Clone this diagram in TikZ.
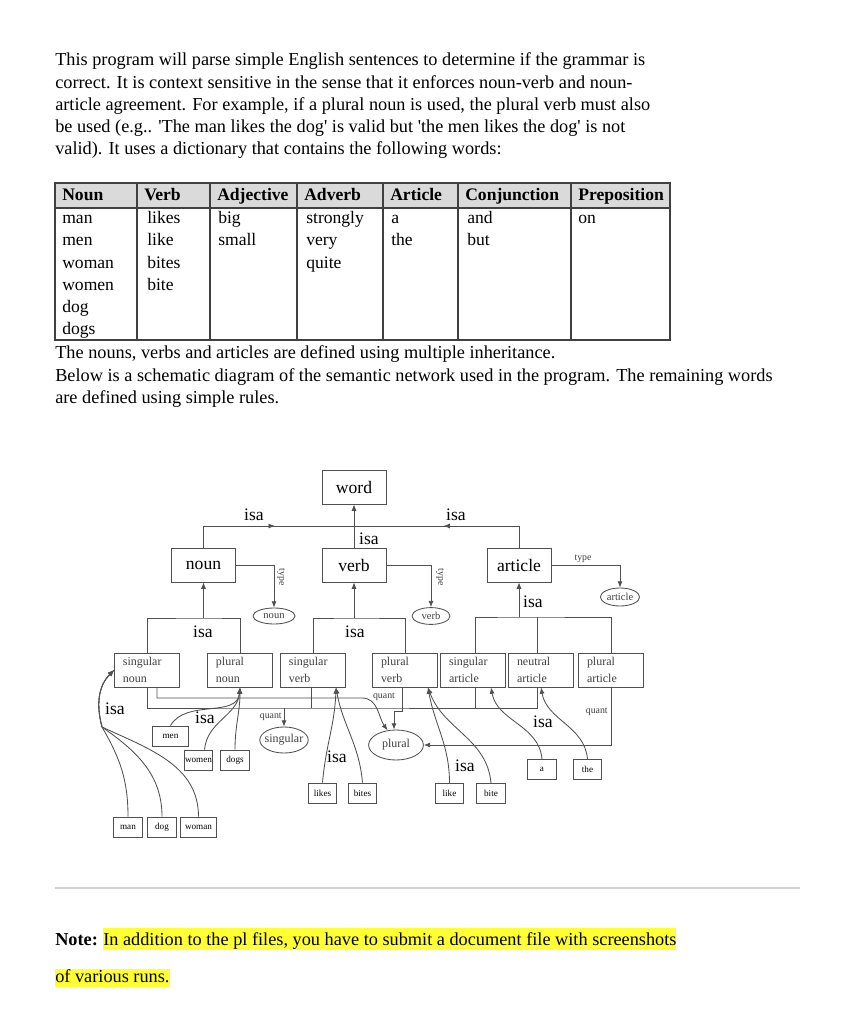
\documentclass[tikz,border=0pt]{standalone}
\usepackage{fontspec}
\setmainfont{Liberation Serif}
\usepackage{xcolor}
\usetikzlibrary{arrows.meta}
\usetikzlibrary{shapes.geometric}
\usetikzlibrary{decorations.markings}

\definecolor{lineg}{HTML}{505050}
\definecolor{hdrgray}{HTML}{DADADA}
\definecolor{rulegray}{HTML}{D2D2D2}
\definecolor{hilite}{HTML}{FFFF33}

\begin{document}
\begin{tikzpicture}[x=0.025cm,y=-0.025cm,
  every node/.style={inner sep=0pt},
  txt/.style={anchor=base west,font=\fontsize{13}{15.6}\selectfont},
  cell/.style={anchor=base west,font=\fontsize{12.5}{15.6}\selectfont},
  hcell/.style={cell,font=\fontsize{12.5}{15.6}\selectfont\bfseries},
  tbl/.style={draw=black!75,line width=0.9pt},
  link/.style={draw=lineg,line width=0.6pt},
  concept/.style={draw=lineg,line width=0.6pt,minimum width=1.6cm,minimum height=0.85cm,font=\fontsize{12.5}{14}\selectfont},
  subcls/.style={draw=lineg,line width=0.6pt,minimum width=1.62cm,minimum height=0.85cm,text width=1.2cm,align=left,font=\fontsize{8.5}{12}\selectfont,text=black!75},
  leaf/.style={draw=lineg,line width=0.6pt,minimum width=0.72cm,minimum height=0.5cm,font=\fontsize{6.5}{8}\selectfont},
  val/.style={ellipse,draw=lineg,line width=0.6pt,font=\fontsize{7.5}{9}\selectfont,text=black!75},
  isalbl/.style={font=\fontsize{12.5}{14}\selectfont},
  lblsmall/.style={font=\fontsize{7}{8}\selectfont,text=black!75},
  hl/.style={txt,fill=hilite,inner ysep=0pt,text depth=0.13cm},
  midarr/.style={postaction={decorate},decoration={markings,mark=at position #1 with {\arrow{Latex[length=4.5pt,width=3.6pt]}}}},
  >={Latex[length=4.5pt,width=3.6pt]}]

\path[fill=white,use as bounding box] (0,0) rectangle (850,1024);

% intro text
\foreach \lin [count=\i from 0] in {
  {This program will parse simple English sentences to determine if the grammar is},
  {correct. It is context sensitive in the sense that it enforces noun-verb and noun-},
  {article agreement. For example, if a plural noun is used, the plural verb must also},
  {be used (e.g.. \textquotesingle The man likes the dog\textquotesingle\ is valid but \textquotesingle the men likes the dog\textquotesingle\ is not},
  {valid). It uses a dictionary that contains the following words:}}
  \node[txt] (intro\i) at (55,66+22.2*\i) {\lin};

% dictionary table
\fill[hdrgray] (55,183) rectangle (670,208);
\draw[tbl] (55,183) rectangle (670,340);
\draw[tbl,line width=1.3pt] (55,208) -- (670,208);
\foreach \cx in {137,210,297,383,458,571}
  \draw[tbl] (\cx,183) -- (\cx,340);
\foreach \cx/\hd in {55/Noun,137/Verb,210/Adjective,297/Adverb,383/Article,458/Conjunction,571/Preposition}
  \node[hcell] (h\hd) at (\cx+7,201) {\hd};
\foreach \wrd [count=\j from 0] in {man,men,woman,women,dog,dogs}
  \node[cell] (cn\j) at (62,224+22*\j) {\wrd};
\foreach \wrd [count=\j from 0] in {likes,like,bites,bite}
  \node[cell] (cv\j) at (147,224+22*\j) {\wrd};
\foreach \wrd [count=\j from 0] in {big,small}
  \node[cell] (cj\j) at (218,224+22*\j) {\wrd};
\foreach \wrd [count=\j from 0] in {strongly,very,quite}
  \node[cell] (cd\j) at (306,224+22*\j) {\wrd};
\foreach \wrd [count=\j from 0] in {a,the}
  \node[cell] (ca\j) at (391,224+22*\j) {\wrd};
\foreach \wrd [count=\j from 0] in {and,but}
  \node[cell] (cc\j) at (467,224+22*\j) {\wrd};
\node[cell] (cp0) at (578,224) {on};

\node[txt] (inh) at (55,358) {The nouns, verbs and articles are defined using multiple inheritance.};
\node[txt] (below1) at (55,381) {Below is a schematic diagram of the semantic network used in the program. The remaining words};
\node[txt] (below2) at (55,403) {are defined using simple rules.};

% semantic network
\node[concept] (word) at (354,487) {word};
\node[concept] (noun) at (203.5,565) {noun};
\node[concept] (verb) at (354,565) {verb};
\node[concept] (article) at (519,565) {article};

\node[val,minimum width=1.05cm,minimum height=0.4cm] (tnoun) at (274,616) {noun};
\node[val,minimum width=0.95cm,minimum height=0.42cm] (tverb) at (431,616) {verb};
\node[val,minimum width=0.98cm,minimum height=0.45cm] (tart) at (620,597) {article};

\node[subcls] (sgnoun) at (147,670) {singular\\noun};
\node[subcls] (plnoun) at (240,670) {plural\\noun};
\node[subcls] (sgverb) at (313,670) {singular\\verb};
\node[subcls] (plverb) at (405,670) {plural\\verb};
\node[subcls] (sgart) at (473,670) {singular\\article};
\node[subcls] (ntart) at (541,670) {neutral\\article};
\node[subcls] (plart) at (611,670) {plural\\article};

\node[val,minimum width=1.2cm,minimum height=0.65cm,inner xsep=-1.5pt,font=\fontsize{8.5}{10}\selectfont] (qsing) at (284,740) {singular};
\node[val,minimum width=1.37cm,minimum height=0.75cm,font=\fontsize{8.5}{10}\selectfont] (qplur) at (396,745) {plural};

\node[leaf,minimum width=0.92cm] (men) at (170.5,736) {men};
\node[leaf] (women) at (198.5,760) {women};
\node[leaf] (dogs) at (235,760) {dogs};
\node[leaf] (man) at (128,827) {man};
\node[leaf] (dog) at (162,827) {dog};
\node[leaf,minimum width=0.92cm] (woman) at (198.5,827) {woman};
\node[leaf] (likes) at (322.5,793) {likes};
\node[leaf] (bites) at (362.5,793) {bites};
\node[leaf,minimum width=0.68cm] (like) at (449.5,793.5) {like};
\node[leaf] (bite) at (491,793.5) {bite};
\node[leaf] (a) at (542,769.5) {a};
\node[leaf] (the) at (587.5,769.5) {the};

% isa to word
\coordinate (wj) at (354,526);
\draw[link,midarr=0.54] (noun.north) |- (wj);
\draw[link,midarr=0.52] (article.north) |- (wj);
\draw[link,->] (verb.north) -- (word.south);
\node[isalbl] (isa1) at (254,515) {isa};
\node[isalbl] (isa2) at (456,515) {isa};
\node[isalbl] (isa3) at (369,539) {isa};

% type links
\draw[link,->] (noun.east) -| (tnoun.north);
\draw[link,->] (verb.east) -| (tverb.north);
\draw[link,->] (article.east) -| (tart.north);
\node[lblsmall,rotate=-90] (ty1) at (281,577) {type};
\node[lblsmall,rotate=-90] (ty2) at (440,577) {type};
\node[lblsmall] (ty3) at (583,559) {type};

% isa bars
\coordinate (nb) at (203.5,618);
\draw[link] (sgnoun.north) |- (nb) -| (plnoun.north);
\draw[link,->] (nb) -- (noun.south);
\coordinate (vb) at (354,618);
\draw[link] (sgverb.north) |- (vb) -| (plverb.north);
\draw[link,->] (vb) -- (verb.south);
\coordinate (ab) at (519,617);
\draw[link] ([xshift=0.05cm]sgart.north) |- (ab) -| (plart.north);
\draw[link] ([xshift=-0.1cm]ntart.north) -- ([xshift=-0.1cm]ntart.north |- ab);
\draw[link,->] (ab) -- (article.south);
\node[isalbl] (isa4) at (203,632) {isa};
\node[isalbl] (isa5) at (355,632) {isa};
\node[isalbl] (isa6) at (533,602) {isa};

% quant links
\coordinate (sq) at (284,708);
\draw[link] (sgnoun.south) |- (sq) -| ([xshift=-0.1cm]ntart.south);
\draw[link] ([xshift=-0.05cm]sgverb.south) -- ([xshift=-0.05cm]sgverb.south |- sq);
\draw[link] ([xshift=0.05cm]sgart.south) -- ([xshift=0.05cm]sgart.south |- sq);
\draw[link,->] (sq) -- (qsing.north);
\node[lblsmall,anchor=east] (q1) at (282,717) {quant};
\coordinate (pq) at (362,698);
\draw[link,->] ([xshift=0.25cm]sgnoun.south) |- (pq) to[out=0,in=125] (qplur.120);
\draw[link,->] ([xshift=-0.075cm]plverb.south) -- ++(0,24) -| ([xshift=-0.05cm]qplur.north);
\node[lblsmall] (q2) at (384,697) {quant};
\draw[link,->] (plart.south) |- (qplur.east);
\node[lblsmall,anchor=east] (q3) at (608,712) {quant};

% isa from words
\draw[link,->] (men.north) to[out=60,in=-95] (plnoun.south);
\draw[link,->] (women.60) to[out=85,in=-95] (plnoun.south);
\draw[link,->] (dogs.north) to[out=90,in=-90] (plnoun.south);
\node[isalbl] (isa7) at (205,718) {isa};
\coordinate (nj) at (102,727);
\draw[link,->] (man.north) to[out=90,in=-60] (nj) to[out=105,in=225] (sgnoun.west);
\draw[link,->] (dog.north) to[out=90,in=-35] (nj) to[out=105,in=225] (sgnoun.west);
\draw[link,->] (woman.north) to[out=90,in=-25] (nj) to[out=105,in=225] (sgnoun.west);
\node[isalbl] (isa8) at (115,709) {isa};
\coordinate (sva) at ([xshift=0.575cm]sgverb.south);
\draw[link,->] (likes.north) to[out=85,in=-92] (sva);
\draw[link,->] (bites.north) to[out=95,in=-80] (sva);
\node[isalbl] (isa9) at (337,757) {isa};
\coordinate (pva) at ([xshift=0.575cm]plverb.south);
\draw[link,->] (like.north) to[out=90,in=-80] (pva);
\draw[link,->] (bite.north) to[out=95,in=-70] (pva);
\node[isalbl] (isa10) at (465,766) {isa};
\coordinate (saa) at ([xshift=0.45cm]sgart.south);
\draw[link,->] (a.north) to[out=95,in=-80] (saa);
\draw[link,->] (the.north) to[out=95,in=-80] (ntart.south);
\node[isalbl] (isa11) at (543,722) {isa};

% note
\draw[rulegray,line width=1.6pt] (55,888) -- (800,888);
\node[txt,font=\fontsize{13}{15.6}\selectfont\bfseries] (notehd) at (55,945) {Note:};
\node[hl,text height=0.42cm] (note1) at (103,945) {In addition to the pl files, you have to submit a document file with screenshots};
\node[hl,text height=0.32cm] (note2) at (55,982) {of various runs.};
\end{tikzpicture}
\end{document}
